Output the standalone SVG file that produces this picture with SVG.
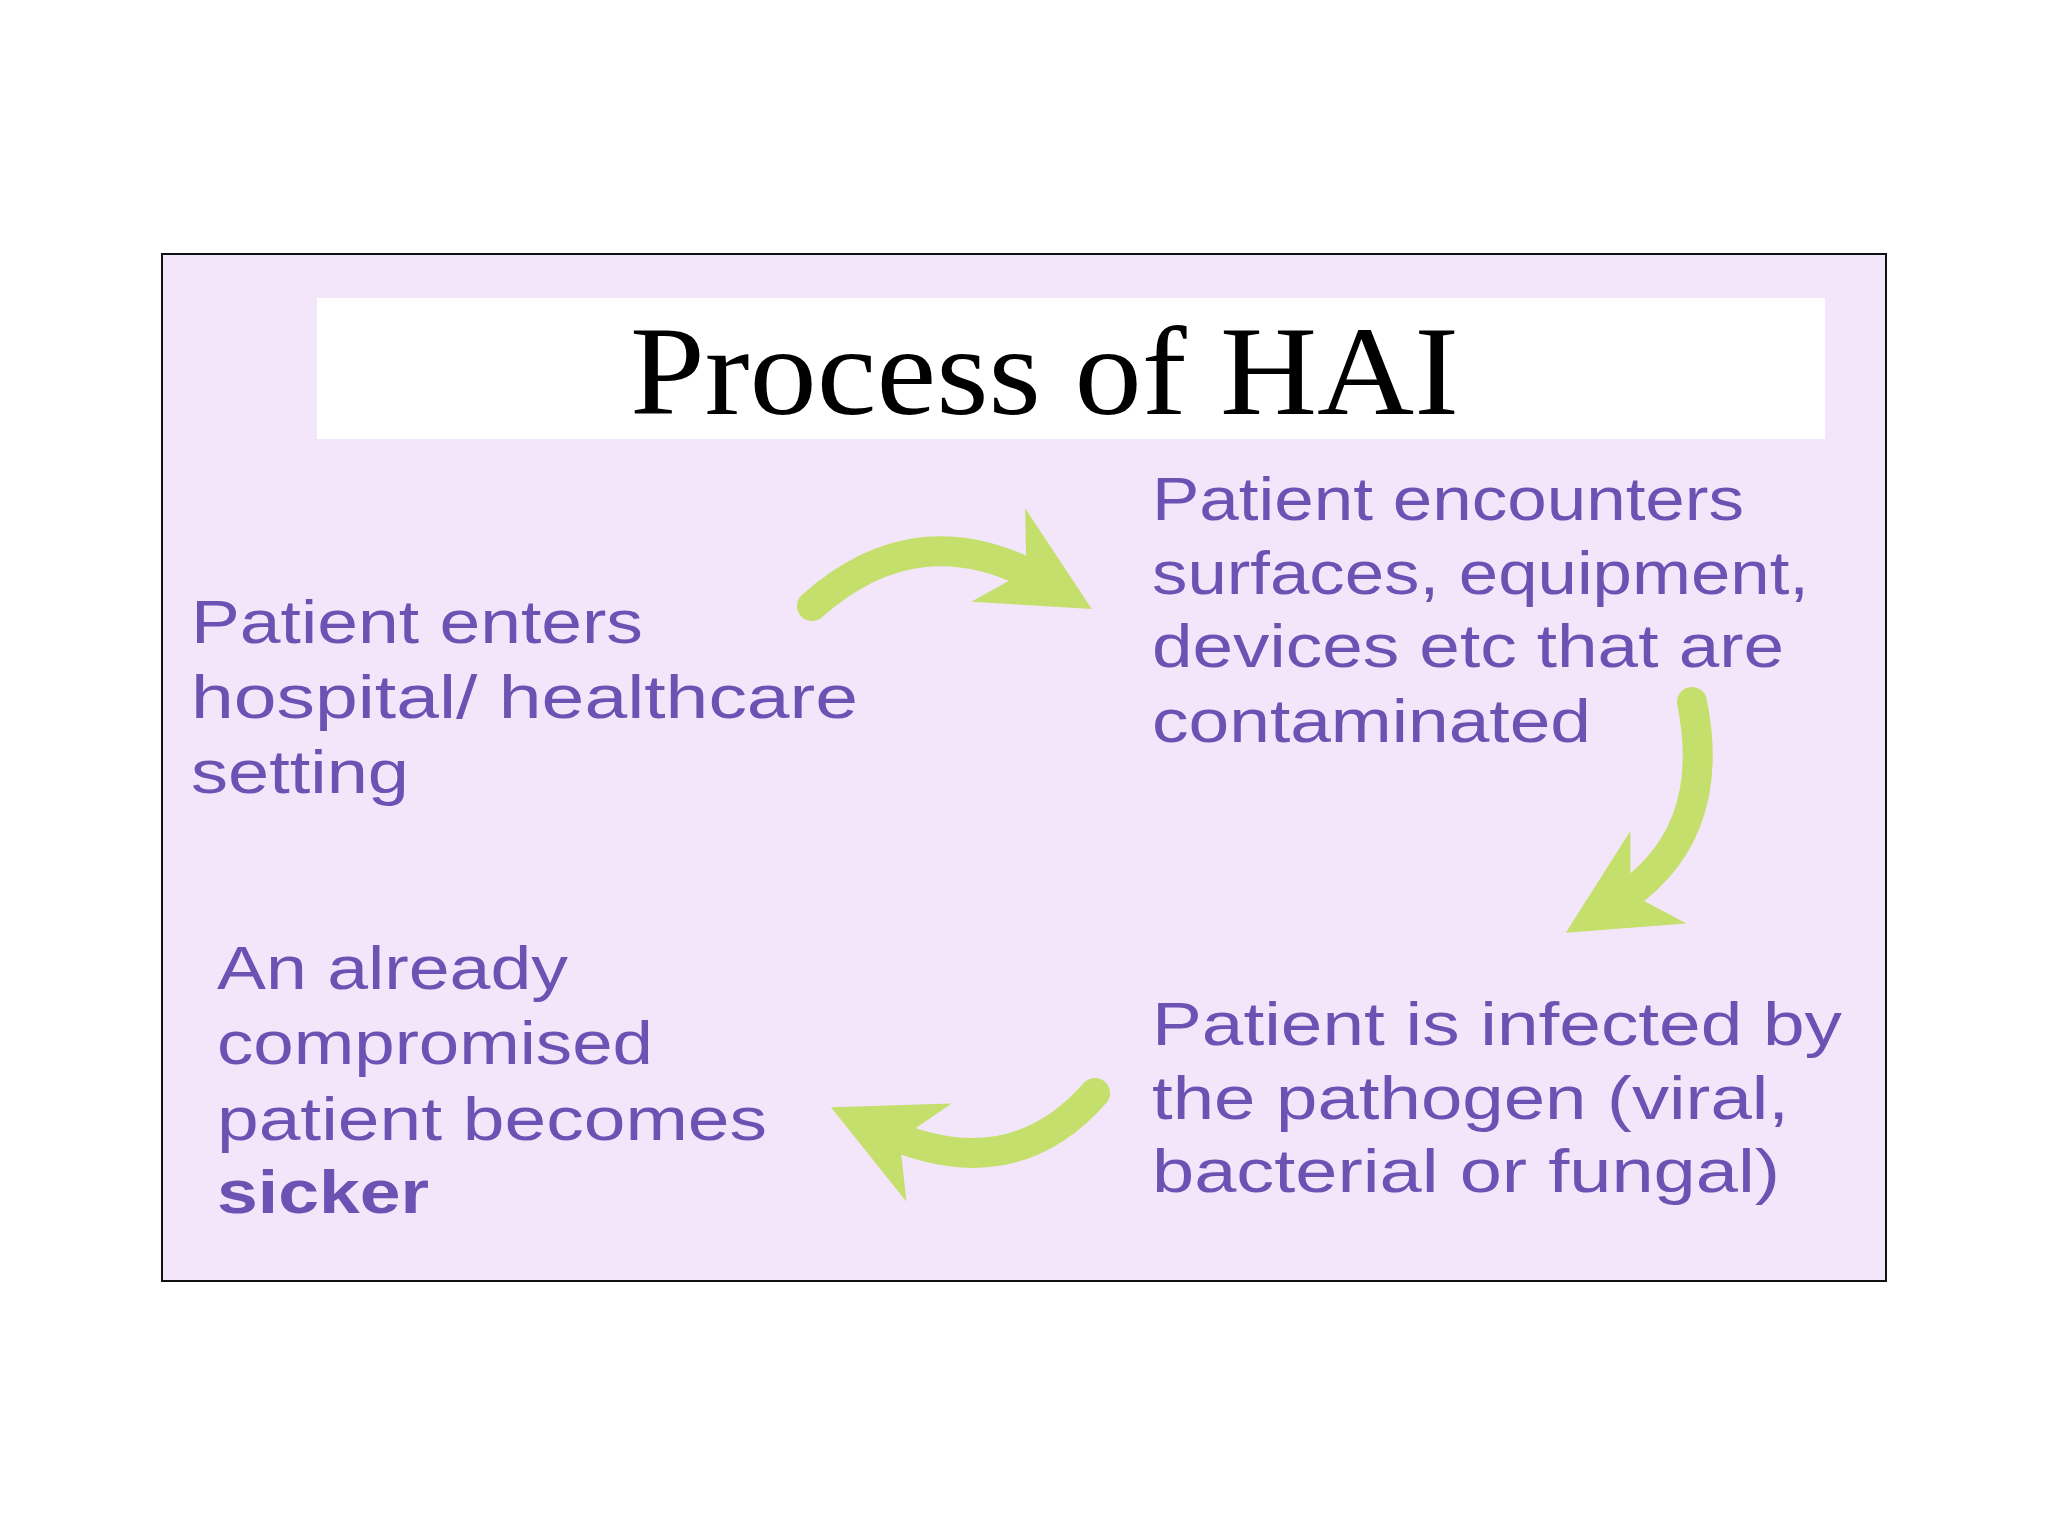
<svg xmlns="http://www.w3.org/2000/svg" width="2048" height="1536" viewBox="0 0 2048 1536">
<style>
.t{font-family:"Liberation Sans",Arial,sans-serif;font-size:62px;fill:#6b52b3}
.a{fill:none;stroke:#c4df6b;stroke-width:30;stroke-linecap:round}
</style>
<defs>
<marker id="h" viewBox="0 0 10 10" refX="5" refY="5" markerWidth="3.6" markerHeight="3.6" orient="auto" markerUnits="strokeWidth">
<path d="M0,0 L10,5 L0,10 L3,5 Z" fill="#c4df6b"/>
</marker>
</defs>
<rect width="2048" height="1536" fill="#fff"/>
<rect x="162" y="254" width="1724" height="1027" fill="#f3e6fb" stroke="#111" stroke-width="2"/>
<rect x="317" y="298" width="1508" height="141" fill="#fff"/>
<text x="630" y="414" textLength="829" lengthAdjust="spacingAndGlyphs" font-family="Liberation Serif,serif" font-size="128" fill="#000">Process of HAI</text>
<g id="n1" lengthAdjust="spacingAndGlyphs"><text class="t" x="191" y="643" textLength="452" lengthAdjust="spacingAndGlyphs">Patient enters</text><text class="t" x="191" y="718" textLength="667" lengthAdjust="spacingAndGlyphs">hospital/ healthcare</text><text class="t" x="191" y="793" textLength="218" lengthAdjust="spacingAndGlyphs">setting</text></g>
<g id="n2"><text class="t" x="1152" y="520" textLength="592" lengthAdjust="spacingAndGlyphs">Patient encounters</text><text class="t" x="1152" y="594" textLength="657" lengthAdjust="spacingAndGlyphs">surfaces, equipment,</text><text class="t" x="1152" y="667" textLength="632" lengthAdjust="spacingAndGlyphs">devices etc that are</text><text class="t" x="1152" y="742" textLength="439" lengthAdjust="spacingAndGlyphs">contaminated</text></g>
<g id="n3"><text class="t" x="1152" y="1045" textLength="690" lengthAdjust="spacingAndGlyphs">Patient is infected by</text><text class="t" x="1152" y="1119" textLength="637" lengthAdjust="spacingAndGlyphs">the pathogen (viral,</text><text class="t" x="1152" y="1192" textLength="628" lengthAdjust="spacingAndGlyphs">bacterial or fungal)</text></g>
<g id="n4"><text class="t" x="217" y="989" textLength="351" lengthAdjust="spacingAndGlyphs">An already</text><text class="t" x="217" y="1064" textLength="436" lengthAdjust="spacingAndGlyphs">compromised</text><text class="t" x="217" y="1140" textLength="550" lengthAdjust="spacingAndGlyphs">patient becomes</text><text class="t" x="217" y="1213" textLength="212" lengthAdjust="spacingAndGlyphs" font-weight="bold" fill="#5a3ea8">sicker</text></g>
<g id="connectors">
<path class="a" d="M812,606 Q920,510 1045,582" marker-end="url(#h)"/>
<path class="a" d="M1692,702 Q1720,840 1612,905" marker-end="url(#h)"/>
<path class="a" d="M1095,1093 Q1010,1190 880,1130" marker-end="url(#h)"/>
</g>
</svg>
